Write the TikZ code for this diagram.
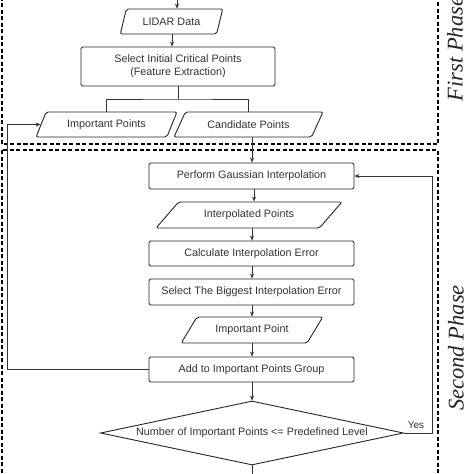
\documentclass[tikz,border=0pt]{standalone}
\usepackage{fontspec}
\setmainfont{Liberation Sans}
\newfontfamily\phasefont{Liberation Serif}
\usetikzlibrary{shapes.geometric,arrows.meta}
\begin{document}
\begin{tikzpicture}[x=1pt,y=-1pt,
  ln/.style={draw=black!80, line width=0.6pt},
  arr/.style={ln, -{Stealth[length=5pt,width=4pt]}},
  base/.style={draw=black!85, line width=0.9pt, inner sep=0pt, text=black!80,
    font=\fontsize{10.8}{13}\selectfont, align=center},
  box/.style={base, rectangle, rounded corners=1.5pt},
  para/.style 2 args={base, trapezium, trapezium stretches=true, rounded corners=2pt,
    trapezium left angle=#1, trapezium right angle=#2},
  dia/.style={base, diamond, aspect=4.73, inner sep=0pt, minimum width=303pt, minimum height=64pt},
  phase/.style={draw=black, line width=1.6pt, dash pattern=on 4pt off 2.5pt},
  phaselabel/.style={font=\phasefont\itshape\fontsize{22.5}{24}\selectfont, rotate=90, text=black!85}
]
\useasboundingbox (0,0) rectangle (474,474);
\clip (0,0) rectangle (474,474);
\fill[white] (0,0) rectangle (474,474);

% phase frames
\draw[phase] (2,-10) rectangle (438,144);
\draw[phase] (2,150) rectangle (438,490);
\node[phaselabel] (ph1) at (455,49) {First Phase};
\node[phaselabel] (ph2) at (456,348) {Second Phase};

% first phase nodes
\node[para={62.5}{117.5}, minimum width=103pt, minimum height=25pt] (lidar) at (171.5,21.5) {LIDAR Data};
\node[box, minimum width=194pt, minimum height=39pt] (sel) at (178,66.5) {Select Initial Critical Points\\(Feature Extraction)};
\node[para={57}{123}, minimum width=141pt, minimum height=25pt] (imp) at (106.5,124.5) {Important Points};
\node[para={47}{133}, minimum width=149pt, minimum height=25pt] (cand) at (248.5,124.5) {Candidate Points};

% second phase nodes
\node[box, minimum width=205pt, minimum height=26pt] (perf) at (251.5,176) {Perform Gaussian Interpolation};
\node[para={35}{145}, minimum width=186pt, minimum height=26pt] (interp) at (249,215) {Interpolated Points};
\node[box, minimum width=205pt, minimum height=25pt] (calc) at (251.5,253.5) {Calculate Interpolation Error};
\node[box, minimum width=205pt, minimum height=26pt] (big) at (251.5,292) {Select The Biggest Interpolation Error};
\node[para={44}{136}, minimum width=142pt, minimum height=26pt] (ip) at (252,330) {Important Point};
\node[box, minimum width=205pt, minimum height=25pt] (add) at (251.5,369.5) {Add to Important Points Group};
\node[dia] (num) at (252,433) {Number of Important Points <= Predefined Level};
\node[text=black!80, font=\fontsize{10}{12}\selectfont, inner sep=0pt] (yes) at (416,425) {Yes};

% helper coordinates
\coordinate (top) at (177,-5);
\coordinate (split) at (178,99);
\coordinate (fb) at (7,369.5);
\coordinate (yesc) at (432,433);
\coordinate (bot) at (252,480);

% connectors
\draw[arr] (top) -- (top |- lidar.north);
\draw[arr] ([xshift=0.5pt]lidar.south) -- ([xshift=0.5pt]lidar.south |- sel.north);
\draw[ln] (sel.south) -- (split);
\draw[ln] (imp.north) |- (split) -| (cand.north);
\draw[arr] ([xshift=3.5pt]cand.south) -- ([xshift=3.5pt]cand.south |- perf.north);
\draw[arr] ([xshift=2.5pt]perf.south) -- ([xshift=2.5pt]perf.south |- interp.north);
\draw[arr] ([xshift=0.5pt]interp.south -| calc.north) -- ([xshift=0.5pt]calc.north);
\draw[arr] ([xshift=0.5pt]calc.south) -- ([xshift=0.5pt]big.north);
\draw[arr] ([xshift=0.5pt]big.south) -- ([xshift=0.5pt]big.south |- ip.north);
\draw[arr] ([xshift=0.5pt]ip.south -| add.north) -- ([xshift=0.5pt]add.north);
\draw[arr] ([xshift=0.5pt]add.south) -- (num.north);
\draw[ln] (num.south) -- (bot);
\draw[arr] (num.east) -- (yesc) |- (perf.east);
\draw[arr] (add.west) -- (fb) |- (imp.west);
\end{tikzpicture}
\end{document}
